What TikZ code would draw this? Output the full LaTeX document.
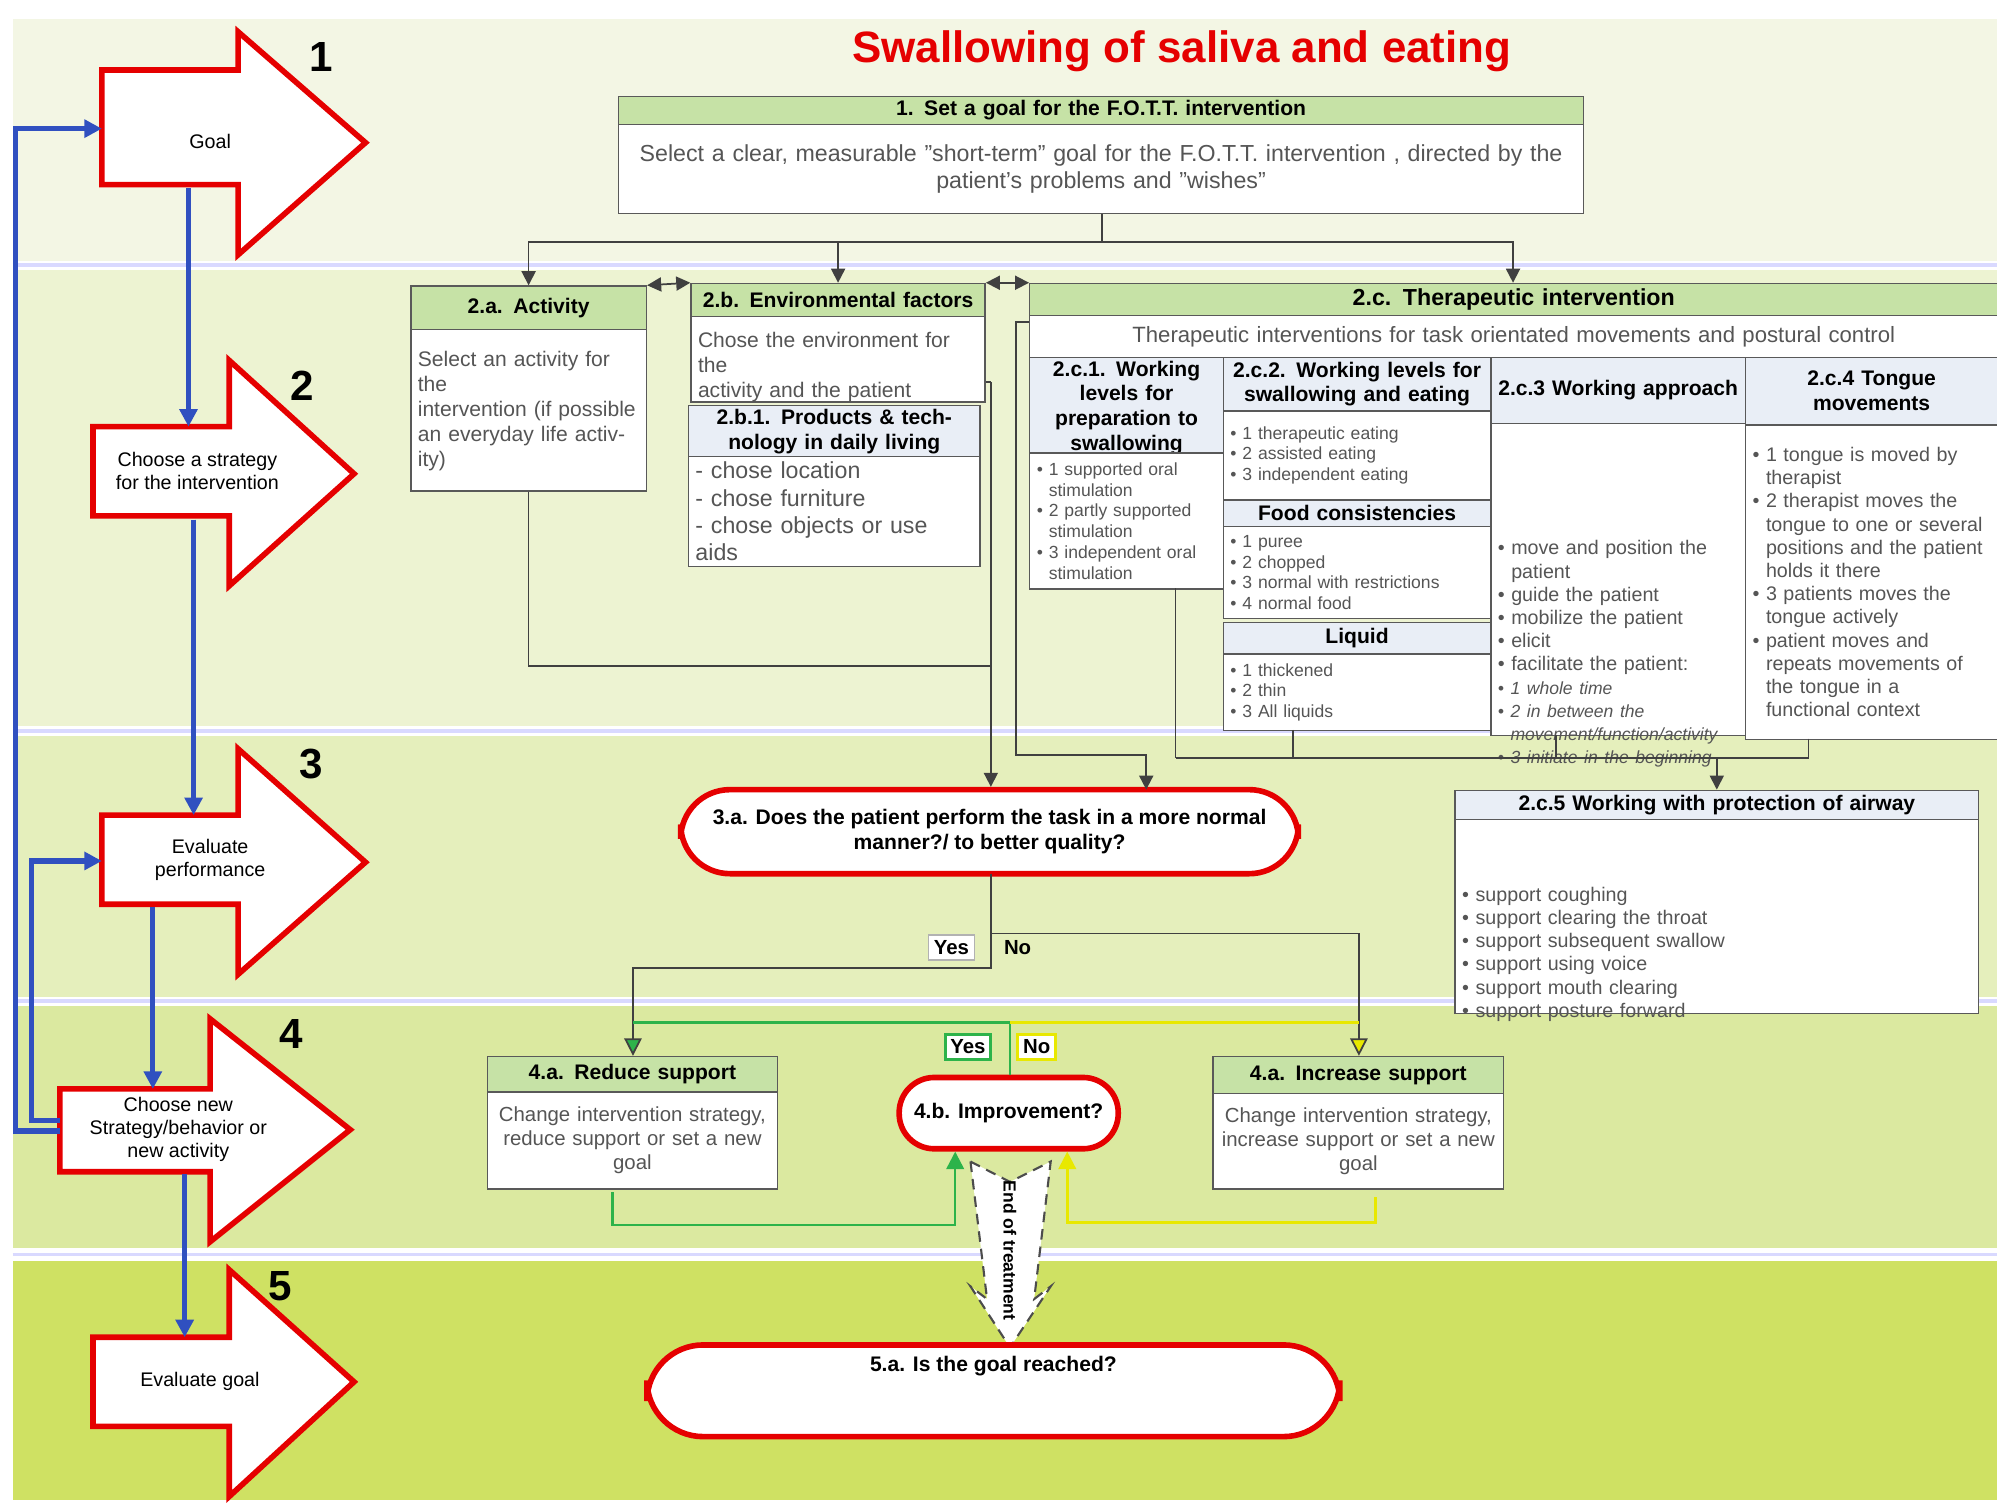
\documentclass[tikz,border=0pt]{standalone}
\usepackage{fontspec}
\setmainfont{Liberation Sans}
\usetikzlibrary{arrows.meta}
\newlength\uu \setlength\uu{0.012736cm}
\newcommand\fz[1]{\fontsize{#1pt}{1.18\dimexpr #1pt\relax}\selectfont}
\definecolor{hdr}{HTML}{C6E2A6}
\definecolor{sub}{HTML}{E9EEF6}
\definecolor{bA}{HTML}{F3F6E4}
\definecolor{bB}{HTML}{EDF3D2}
\definecolor{bC}{HTML}{E5EFBC}
\definecolor{bD}{HTML}{DBE9A0}
\definecolor{bE}{HTML}{CFE163}
\definecolor{tg}{HTML}{555555}
\definecolor{gar}{HTML}{2DB34A}
\definecolor{yar}{HTML}{E8E800}
\definecolor{bl}{HTML}{3050C0}
\tikzset{
 x=\uu, y=-\uu,
 W/.code={\pgfmathsetlengthmacro\mytw{#1*\uu-4pt}\pgfmathsetlengthmacro\mymw{#1*\uu}\tikzset{minimum width=\mymw, text width=\mytw}},
 Hh/.style={minimum height={#1*\uu}},
 TD/.style={text depth={#1*\uu}},
 hd/.style={draw=gray!70!black, fill=hdr, anchor=north west, inner xsep=2pt, inner ysep=1pt, align=center, font=\fz{6}\bfseries},
 sb/.style={draw=gray!70!black, fill=sub, anchor=north west, inner xsep=2pt, inner ysep=1pt, align=center, font=\fz{6}\bfseries},
 bd/.style={draw=gray!70!black, fill=white, anchor=north west, inner xsep=2pt, inner ysep=1.5pt, align=left, text=tg},
 big/.style={draw=red!90!black, line width=1.6pt, fill=white, line join=miter},
 lab/.style={font=\fz{5.6}, align=center},
 num/.style={font=\fz{12}\bfseries},
 rnd/.style={draw=red!90!black, line width=1.6pt, fill=white, rounded corners=10pt, align=center, font=\fz{6}\bfseries},
 ln/.style={draw=black!75, line width=0.5pt},
 ar/.style={ln, -{Triangle[length=4pt,width=4pt]}},
 blu/.style={draw=bl, line width=1.5pt},
 blar/.style={blu, -{Triangle[length=5pt,width=5pt]}},
}
\begin{document}
\begin{tikzpicture}
\useasboundingbox (0,0) rectangle (1568,1185);
\fill[white] (0,0) rectangle (1568,1185);
% bands
\fill[bA] (10,15) rectangle (1568,205);
\fill[bB] (10,212) rectangle (1568,570);
\fill[bC] (10,578) rectangle (1568,783);
\fill[bD] (10,790) rectangle (1568,980);
\fill[bE] (10,990) rectangle (1568,1178);
\foreach \y in {208,574,786,985}{\draw[blue!15, line width=1pt] (10,\y) -- (1568,\y);}
% title
\node[font=\fz{12.5}\bfseries, text=red!90!black] (title) at (928,40) {Swallowing of saliva and eating};
% big arrows
\draw[big] (80,55) -- (187,55) -- (187,25) -- (287,112) -- (187,200) -- (187,145) -- (80,145) -- cycle;
\node[lab] (g1) at (165,111) {Goal};
\node[num] (n1) at (252,45) {1};
\draw[big] (73,335) -- (180,335) -- (180,283) -- (278,372) -- (180,460) -- (180,405) -- (73,405) -- cycle;
\node[lab] (g2) at (155,370) {Choose a strategy\\for the intervention};
\node[num] (n2) at (237,303) {2};
\draw[big] (80,640) -- (187,640) -- (187,588) -- (287,677) -- (187,765) -- (187,710) -- (80,710) -- cycle;
\node[lab] (g3) at (165,675) {Evaluate\\performance};
\node[num] (n3) at (244,600) {3};
\draw[big] (47,855) -- (165,855) -- (165,800) -- (275,887) -- (165,975) -- (165,920) -- (47,920) -- cycle;
\node[lab] (g4) at (140,887) {Choose new\\Strategy/behavior or\\new activity};
\node[num] (n4) at (229,812) {4};
\draw[big] (73,1050) -- (180,1050) -- (180,997) -- (278,1085) -- (180,1175) -- (180,1120) -- (73,1120) -- cycle;
\node[lab] (g5) at (157,1085) {Evaluate goal};
\node[num] (n5) at (220,1010) {5};
% blue connectors
\coordinate (b1a) at (148,148); \coordinate (b1b) at (148,335);
\coordinate (b2a) at (152,408); \coordinate (b2b) at (152,640);
\coordinate (b3a) at (120,712); \coordinate (b3b) at (120,855);
\coordinate (b4a) at (145,922); \coordinate (b4b) at (145,1050);
\draw[blar] (b1a) -- (b1b);
\draw[blar] (b2a) -- (b2b);
\draw[blar] (b3a) -- (b3b);
\draw[blar] (b4a) -- (b4b);
\coordinate (l1a) at (47,888); \coordinate (l1b) at (80,101);
\coordinate (l2a) at (47,880); \coordinate (l2b) at (80,676);
\draw[blar] (l1a) -| (12,500) |- (l1b);
\draw[blar] (l2a) -| (25,780) |- (l2b);
% box 1
\node[hd, W=758, Hh=22] (h1) at (485,75) {1. Set a goal for the F.O.T.T. intervention};
\node[bd, W=758, Hh=70, align=center, font=\fz{6.6}] (b1) at (485,97) {Select a clear, measurable "short-term" goal for the F.O.T.T. intervention , directed by the\\patient's problems and "wishes"};
% level 2
\node[hd, W=185, Hh=34] (h2a) at (322,224) {2.a. Activity};
\node[bd, W=185, Hh=127, TD=80, font=\fz{6}] (b2a) at (322,258) {Select an activity for the\\intervention (if possible\\an everyday life activity)};
\node[hd, W=231, Hh=26] (h2b) at (542,222) {2.b. Environmental factors};
\node[bd, W=231, Hh=67, TD=30, font=\fz{6}] (b2b) at (542,248) {Chose the environment for the\\activity and the patient};
\node[sb, W=229, Hh=40] (h2b1) at (540,318) {2.b.1. Products \& tech-\\nology in daily living};
\node[bd, W=229, Hh=69, font=\fz{6.6}] (b2b1) at (540,358) {- chose location\\- chose furniture\\- chose objects or use aids};
\node[hd, W=760, Hh=25, font=\fz{6.6}\bfseries] (h2c) at (808,222) {2.c. Therapeutic intervention};
\node[bd, W=760, Hh=33, align=center, font=\fz{6.3}] (b2c) at (808,247) {Therapeutic interventions for task orientated movements and postural control};
\node[sb, W=152, Hh=75] (h2c1) at (808,280) {2.c.1. Working\\levels for\\preparation to\\swallowing};
\node[bd, W=152, Hh=107, font=\fz{5}] (b2c1) at (808,355) {\textbullet\ 1 supported oral\\\phantom{\textbullet\ }stimulation\\\textbullet\ 2 partly supported\\\phantom{\textbullet\ }stimulation\\\textbullet\ 3 independent oral\\\phantom{\textbullet\ }stimulation};
\node[sb, W=210, Hh=42] (h2c2) at (960,280) {2.c.2. Working levels for\\swallowing and eating};
\node[bd, W=210, Hh=70, font=\fz{5}] (b2c2) at (960,322) {\textbullet\ 1 therapeutic eating\\\textbullet\ 2 assisted eating\\\textbullet\ 3 independent eating};
\node[sb, W=210, Hh=21] (hfc) at (960,392) {Food consistencies};
\node[bd, W=210, Hh=72, font=\fz{5}] (bfc) at (960,413) {\textbullet\ 1 puree\\\textbullet\ 2 chopped\\\textbullet\ 3 normal with restrictions\\\textbullet\ 4 normal food};
\node[sb, W=210, Hh=25] (hlq) at (960,488) {Liquid};
\node[bd, W=210, Hh=60, font=\fz{5}] (blq) at (960,513) {\textbullet\ 1 thickened\\\textbullet\ 2 thin\\\textbullet\ 3 All liquids};
\node[sb, W=200, Hh=52] (h2c3) at (1170,280) {2.c.3 Working approach};
\node[bd, W=200, Hh=245, TD=50, font=\fz{5.6}] (b2c3) at (1170,332) {\textbullet\ move and position the\\\phantom{\textbullet\ }patient\\\textbullet\ guide the patient\\\textbullet\ mobilize the patient\\\textbullet\ elicit\\\textbullet\ facilitate the patient:\\{\fz{5}\itshape\textbullet\ 1 whole time}\\{\fz{5}\itshape\textbullet\ 2 in between the}\\{\fz{5}\itshape\phantom{\textbullet\ }movement/function/activity}\\{\fz{5}\itshape\textbullet\ 3 initiate in the beginning}};
\node[sb, W=198, Hh=53] (h2c4) at (1370,280) {2.c.4 Tongue\\movements};
\node[bd, W=198, Hh=247, font=\fz{5.6}] (b2c4) at (1370,333) {\textbullet\ 1 tongue is moved by\\\phantom{\textbullet\ }therapist\\\textbullet\ 2 therapist moves the\\\phantom{\textbullet\ }tongue to one or several\\\phantom{\textbullet\ }positions and the patient\\\phantom{\textbullet\ }holds it there\\\textbullet\ 3 patients moves the\\\phantom{\textbullet\ }tongue actively\\\textbullet\ patient moves and\\\phantom{\textbullet\ }repeats movements of\\\phantom{\textbullet\ }the tongue in a\\\phantom{\textbullet\ }functional context};
\node[sb, W=411, Hh=23] (h2c5) at (1142,620) {2.c.5 Working with protection of airway};
\node[bd, W=411, Hh=152, TD=35, font=\fz{5.6}] (b2c5) at (1142,643) {\textbullet\ support coughing\\\textbullet\ support clearing the throat\\\textbullet\ support subsequent swallow\\\textbullet\ support using voice\\\textbullet\ support mouth clearing\\\textbullet\ support posture forward};
% connectors from 1
\coordinate (j1) at (865,190);
\draw[ln] (b1.south -| j1) -- (j1);
\draw[ar] (j1) -| (h2a.north);
\draw[ar] (j1) -| (h2b.north);
\draw[ar] (j1) -| (1188,222);
\draw[ln, {Triangle[length=4pt,width=4pt]}-{Triangle[length=4pt,width=4pt]}] (h2a.north east) -- (h2b.north west);
\draw[ln, {Triangle[length=4pt,width=4pt]}-{Triangle[length=4pt,width=4pt]}] (h2b.north east) -- (h2c.north west);
% level 3
\node[rnd, minimum width={485*\uu}, minimum height={66*\uu}, rounded corners=14pt] (q3) at (777,653) {3.a. Does the patient perform the task in a more normal\\manner?/ to better quality?};
\draw[ln] (b2a.south) |- (778,523);
\draw[ln] (b2b.east |- 0,300) -- (778,300);
\draw[ar] (778,300) -- (q3.north -| 778,0);
\draw[ar] (808,253) -- (798,253) -- (798,593) -| (900,620);
\draw[ln] (923,462) -- (923,595);
\draw[ln] (1015,573) -- (1015,595);
\draw[ln] (1222,577) -- (1222,595);
\draw[ln] (1420,580) -- (1420,595);
\draw[ln] (923,595) -- (1420,595);
\draw[ar] (1348,595) -- (h2c5.north -| 1348,0);
% level 4
\node[hd, W=228, Hh=28] (h4r) at (382,829) {4.a. Reduce support};
\node[bd, W=228, Hh=76, align=center, font=\fz{5.8}] (b4r) at (382,857) {Change intervention strategy,\\reduce support or set a new\\goal};
\node[hd, W=228, Hh=29] (h4i) at (952,829) {4.a. Increase support};
\node[bd, W=228, Hh=75, align=center, font=\fz{5.8}] (b4i) at (952,858) {Change intervention strategy,\\increase support or set a new\\goal};
\node[rnd, minimum width={172*\uu}, minimum height={56*\uu}] (q4) at (792,874) {4.b. Improvement?};
\node[draw=gray!60, fill=white, font=\fz{5.8}\bfseries, inner sep=1.5pt] (y3) at (747,744) {Yes};
\node[draw=bC, fill=bC, font=\fz{5.8}\bfseries, inner sep=1.5pt] (n3l) at (799,744) {No};
\draw[ln] (778,686) -- (778,760) -| (497,800);
\draw[ar, -{Triangle[length=5pt,width=5pt,fill=gar]}] (497,800) -- (h4r.north -| 497,0);
\draw[ln] (778,733) -| (1067,800);
\draw[ar, -{Triangle[length=5pt,width=5pt,fill=yar]}] (1067,800) -- (h4i.north -| 1067,0);
\draw[draw=gar, line width=0.7pt] (497,803) -| (q4.north -| 793,0);
\draw[draw=yar, line width=0.7pt] (793,803) -- (1067,803);
\node[draw=gar, fill=white, font=\fz{5.8}\bfseries, inner sep=1.5pt, line width=0.8pt] (y4) at (760,822) {Yes};
\node[draw=yar, fill=white, font=\fz{5.8}\bfseries, inner sep=1.5pt, line width=0.8pt] (n4l) at (814,822) {No};
\draw[draw=gar, line width=0.7pt, -{Triangle[length=5pt,width=5pt]}] (481,936) -- (481,962) -| (q4.south -| 750,0);
\draw[draw=yar, line width=0.7pt, -{Triangle[length=5pt,width=5pt]}] (1080,940) -- (1080,960) -| (q4.south -| 838,0);
% end of treatment arrow
\draw[draw=black!70, fill=white, line width=0.6pt, densely dashed] (762,912) -- (793,928) -- (825,912) -- (812,1020) -- (825,1010) -- (793,1058) -- (762,1010) -- (775,1020) -- cycle;
\node[rotate=-90, font=\fz{5}\bfseries] (eot) at (793,982) {End of treatment};
% level 5
\node[rnd, minimum width={544*\uu}, minimum height={64*\uu}, rounded corners=16pt] (q5) at (780,1092) {5.a. Is the goal reached?\\[8pt]};
\end{tikzpicture}
\end{document}
